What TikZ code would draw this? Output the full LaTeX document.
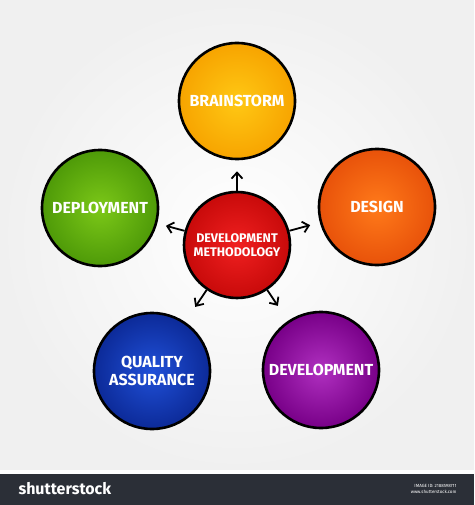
\documentclass[tikz,border=0pt]{standalone}
\usepackage{fontspec}
\setmainfont{Fira Sans}
\newfontfamily\labelfont{Fira Sans}
\usetikzlibrary{arrows.meta}
\definecolor{bgedge}{HTML}{F0F0F0}
\definecolor{barcol}{HTML}{2B2F37}
\definecolor{ylin}{HTML}{FFC814}\definecolor{ylout}{HTML}{F7A400}
\definecolor{orin}{HTML}{FF7A1A}\definecolor{orout}{HTML}{E8520A}
\definecolor{grin}{HTML}{7CC818}\definecolor{grout}{HTML}{4E9A08}
\definecolor{blin}{HTML}{2050D8}\definecolor{blout}{HTML}{0C2A98}
\definecolor{puin}{HTML}{B030C0}\definecolor{puout}{HTML}{780088}
\definecolor{rdin}{HTML}{F02020}\definecolor{rdout}{HTML}{C80A0A}
\tikzset{
  bubble/.style={circle, draw=black, line width=2.6pt, minimum size=116pt, inner sep=0pt,
    text=white, align=center, font=\labelfont\bfseries\fontsize{16}{17.5}\selectfont},
  hub/.style={bubble, minimum size=106pt, font=\labelfont\bfseries\fontsize{12.5}{14}\selectfont},
  link/.style={line width=1.8pt, -{Straight Barb[length=6pt,width=11pt,line width=1.8pt]}},
}
\begin{document}
\begin{tikzpicture}[x=1pt,y=-1pt]
\useasboundingbox (0,0) rectangle (474,505);
\shade[inner color=white, outer color=bgedge] (0,0) rectangle (474,471);
\fill[white] (0,470) rectangle (474,474);
\fill[barcol] (0,474) rectangle (474,505);
\node[anchor=west, text=white, font=\bfseries\fontsize{16}{17}\selectfont] (logo) at (15,489) {shutterstock};
\node[anchor=east, text=white, font=\fontsize{4.5}{5}\selectfont, align=right] (imgid) at (460,489) {IMAGE ID: 2188598711\\[1pt]www.shutterstock.com};

\node[hub, shading=radial, inner color=rdin, outer color=rdout] (c) at (237,245) {DEVELOPMENT\\METHODOLOGY};
\node[bubble, shading=radial, inner color=ylin, outer color=ylout] (b) at (237,101) {BRAINSTORM};
\node[bubble, shading=radial, inner color=orin, outer color=orout] (d) at (377,207) {DESIGN};
\node[bubble, shading=radial, inner color=grin, outer color=grout] (p) at (100,208) {DEPLOYMENT};
\node[bubble, shading=radial, inner color=blin, outer color=blout] (q) at (152,371) {QUALITY\\ASSURANCE};
\node[bubble, shading=radial, inner color=puin, outer color=puout] (v) at (321,370) {DEVELOPMENT};

\draw[link, shorten >=11pt] (c) -- (b);
\draw[link, shorten >=10pt] (c) -- (d);
\draw[link, shorten >=9pt] (c) -- (p);
\draw[link, shorten >=18pt] (c) -- (q);
\draw[link, shorten >=18pt] (c) -- (v);
\end{tikzpicture}
\end{document}
